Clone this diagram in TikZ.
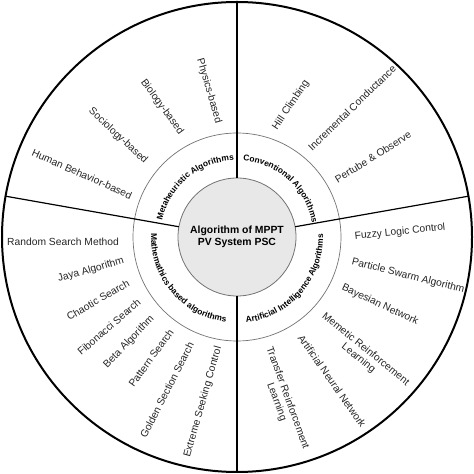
\documentclass[tikz,border=0pt]{standalone}
\usepackage{fontspec}
\setmainfont{Liberation Sans}
\usetikzlibrary{decorations.text}
\newcommand{\ringfont}{\fontsize{8.4}{10}\selectfont\bfseries}
\tikzset{
  lbl/.style={font=\fontsize{10.3}{11.5}\selectfont, text=black!85, inner sep=1pt, align=center},
  rimc/.style={circle, draw=black, line width=2pt, fill=white, minimum size=470pt, inner sep=0pt, outer sep=0pt},
  ringc/.style={circle, draw=black!55, line width=0.7pt, minimum size=208pt, inner sep=0pt, outer sep=0pt},
  corec/.style={circle, draw=black!55, line width=0.8pt, fill=black!9, minimum size=118pt, inner sep=0pt, outer sep=0pt,
    font=\fontsize{10.4}{12.5}\selectfont\bfseries, align=center},
  divider/.style={draw=black, line width=1.2pt},
  ringtext/.style={decorate, decoration={text along path, text align=center, text={|\ringfont|#1}}}
}
\begin{document}
\begin{tikzpicture}[x=1pt,y=1pt]
\useasboundingbox (0,0) rectangle (474,474);
\coordinate (C) at (237,237);
\node[rimc] (rim) at (C) {};
\node[ringc] (ring) at (C) {};
\node[corec] (core) at (C) {Algorithm of MPPT\\PV System PSC};
\foreach \a in {90,170,270,10} \draw[divider] (core.\a) -- (rim.\a);

% ring labels
\path[shift={(C)}, ringtext={Metaheuristic Algorithms}] (172:76.5) arc[start angle=172, end angle=88, radius=76.5];
\path[shift={(C)}, ringtext={Conventional Algorithms}] (90:76.5) arc[start angle=90, end angle=6, radius=76.5];
\path[shift={(C)}, ringtext={Mathemathics based algorithms}] (168:86) arc[start angle=168, end angle=272, radius=86];
\path[shift={(C)}, ringtext={Artificial Intelligence Algorithms}] (268:86) arc[start angle=268, end angle=370, radius=86];

% metaheuristic
\node[lbl, rotate=-74] (physics) at (209,383) {Physics-based};
\node[lbl, rotate=-54] (biology) at (162,367) {Biology-based};
\node[lbl, rotate=-43] (sociology) at (118,338) {Sociology-based};
\node[lbl, rotate=-24] (human) at (82,300) {Human Behavior-based};

% conventional
\node[lbl, rotate=56] (hill) at (291,369) {Hill Climbing};
\node[lbl, rotate=44] (inc) at (352,366) {Incremental Conductance};
\node[lbl, rotate=32] (po) at (373,317) {Pertube \& Observe};

% mathematics
\node[lbl] (random) at (63,232) {Random Search Method};
\node[lbl, rotate=16] (jaya) at (91,204) {Jaya Algorithm};
\node[lbl, rotate=30] (chaotic) at (98,174) {Chaotic Search};
\node[lbl, rotate=41] (fib) at (109,147) {Fibonacci Search};
\node[lbl, rotate=46] (beta) at (129,132) {Beta Algorithm};
\node[lbl, rotate=54] (pattern) at (151,116) {Pattern Search};
\node[lbl, rotate=63] (golden) at (167,84) {Golden Section Search};
\node[lbl, rotate=74] (extreme) at (203,72) {Extreme Seeking Control};

% artificial intelligence
\node[lbl, rotate=6] (fuzzy) at (400,242) {Fuzzy Logic Control};
\node[lbl, rotate=-14] (pso) at (408,198) {Particle Swarm Algorithm};
\node[lbl, rotate=-25] (bayes) at (380,169) {Bayesian Network};
\node[lbl, rotate=-39] (memetic) at (362,120) {Memetic Reinforcement\\Learning};
\node[lbl, rotate=-55] (ann) at (332,93) {Artificial Neural Network};
\node[lbl, rotate=-70] (transfer) at (282,74) {Transfer Reinforcement\\Learning};
\end{tikzpicture}
\end{document}
